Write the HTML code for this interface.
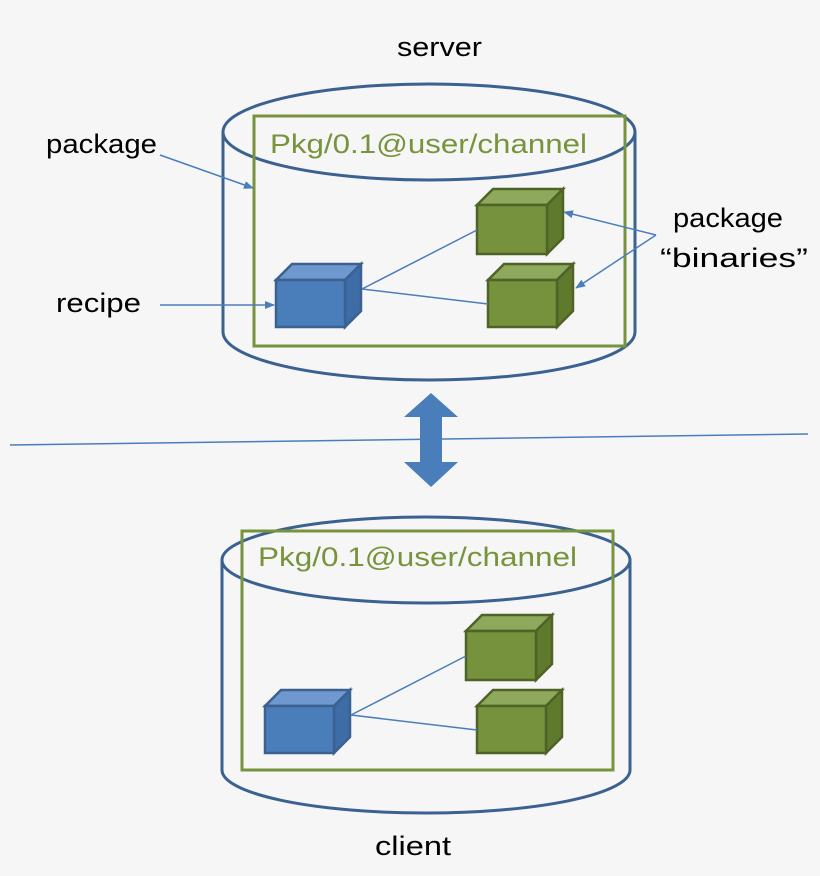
<!DOCTYPE html>
<html><head><style>
body{margin:0;background:#f6f6f6;}
svg{display:block;}
text{font-family:"Liberation Sans",sans-serif;}
</style></head><body>
<svg width="820" height="876" viewBox="0 0 820 876">
<defs>
<marker id="ar" markerWidth="10" markerHeight="8" refX="9" refY="4" orient="auto" markerUnits="userSpaceOnUse">
<path d="M0,0 L10,4 L0,8 z" fill="#4a7ebb"/></marker>
</defs>
<rect width="820" height="876" fill="#f6f6f6"/>
<path d="M223,132 L223,332 A206,48 0 0 0 635,332 L635,132" fill="none" stroke="#3a6190" stroke-width="3"/>
<ellipse cx="429" cy="132" rx="206" ry="48" fill="none" stroke="#3a6190" stroke-width="3"/>
<rect x="254" y="116" width="371" height="230" fill="none" stroke="#77933c" stroke-width="3"/>
<text x="270" y="153" font-size="27" fill="#77933c" textLength="317" lengthAdjust="spacingAndGlyphs">Pkg/0.1@user/channel</text>
<path d="M222,560 L222,770 A204,43 0 0 0 630,770 L630,560" fill="none" stroke="#3a6190" stroke-width="3"/>
<ellipse cx="426" cy="560" rx="204" ry="43" fill="none" stroke="#3a6190" stroke-width="3"/>
<rect x="242" y="531" width="371" height="239" fill="none" stroke="#77933c" stroke-width="3"/>
<text x="258" y="566" font-size="27" fill="#77933c" textLength="319" lengthAdjust="spacingAndGlyphs">Pkg/0.1@user/channel</text>

<g id="cubes">
<polygon points="276,280 292,264 361,264 345,280" fill="#6f98cf" stroke="#3a6190" stroke-width="2.5"/>
<polygon points="345,280 361,264 361,311 345,327" fill="#3e6ca6" stroke="#3a6190" stroke-width="2.5"/>
<rect x="276" y="280" width="69" height="47" fill="#4a7ebb" stroke="#3a6190" stroke-width="2.5"/>
<polygon points="477,205 493,189 563,189 547,205" fill="#8fa95c" stroke="#4f6228" stroke-width="2.5"/>
<polygon points="547,205 563,189 563,238 547,254" fill="#5f7a2c" stroke="#4f6228" stroke-width="2.5"/>
<rect x="477" y="205" width="70" height="49" fill="#76923c" stroke="#4f6228" stroke-width="2.5"/>
<polygon points="488,280 504,264 573,264 557,280" fill="#8fa95c" stroke="#4f6228" stroke-width="2.5"/>
<polygon points="557,280 573,264 573,311 557,327" fill="#5f7a2c" stroke="#4f6228" stroke-width="2.5"/>
<rect x="488" y="280" width="69" height="47" fill="#76923c" stroke="#4f6228" stroke-width="2.5"/>
<line x1="362" y1="289" x2="477" y2="230" stroke="#4a7ebb" stroke-width="1.5"/>
<line x1="362" y1="289" x2="488" y2="304" stroke="#4a7ebb" stroke-width="1.5"/>
</g>
<use href="#cubes" transform="translate(-11,426)"/>

<line x1="160" y1="155" x2="253" y2="188" stroke="#4a7ebb" stroke-width="1.5" marker-end="url(#ar)"/>
<line x1="160" y1="305" x2="274" y2="305" stroke="#4a7ebb" stroke-width="1.5" marker-end="url(#ar)"/>
<line x1="656" y1="235" x2="564" y2="212" stroke="#4a7ebb" stroke-width="1.5" marker-end="url(#ar)"/>
<line x1="656" y1="235" x2="576" y2="288" stroke="#4a7ebb" stroke-width="1.5" marker-end="url(#ar)"/>

<line x1="10" y1="445" x2="808" y2="434" stroke="#4a7ebb" stroke-width="1.5"/>
<polygon points="431,393 458,417 442,417 442,462 458,462 431,487 404,462 420,462 420,417 404,417" fill="#4a7ebb"/>

<text x="397" y="56" font-size="27" fill="#000" textLength="85" lengthAdjust="spacingAndGlyphs">server</text>
<text x="46" y="153" font-size="27" fill="#000" textLength="111" lengthAdjust="spacingAndGlyphs">package</text>
<text x="56" y="312" font-size="27" fill="#000" textLength="85" lengthAdjust="spacingAndGlyphs">recipe</text>
<text x="673" y="227" font-size="27" fill="#000" textLength="110" lengthAdjust="spacingAndGlyphs">package</text>
<text x="660" y="267" font-size="27" fill="#000" textLength="148" lengthAdjust="spacingAndGlyphs">“binaries”</text>
<text x="375" y="855" font-size="27" fill="#000" textLength="76" lengthAdjust="spacingAndGlyphs">client</text>
</svg>
</body></html>
